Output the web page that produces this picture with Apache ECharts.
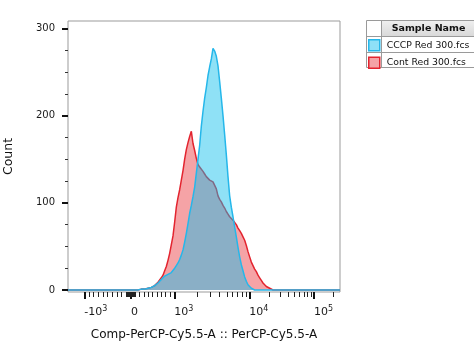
<!DOCTYPE html>
<html><head><meta charset="utf-8">
<script src="https://cdn.jsdelivr.net/npm/echarts@6/dist/echarts.min.js"></script>
<style>html,body{margin:0;padding:0;background:#fff}#c{width:474px;height:351px}</style>
</head><body><div id="c"></div>
<script>
// Histogram bins on the biexponential display scale (display channels)
const binChannels = [40,41,42,43,44,45,46,47,48,49,50,51,52,53,54,55,56,57,58,59,
  60,61,62,63,64,65,66,67,68,69,70,71,72,73,74,75,76,77,78,79,
  80,81,82,83,84,85,86,87,88,89,90,91,92,93,94,95,96,97,98,99,
  100,101,102,103,104,105,106,107,108,109,110,111,112,113,114,115,116,117,118,119,
  120,121,122,123];
const cccpCounts = [0,0,0,1,1,1,1,2,2,3,
  3,4,5,7,8,10,12,14,16,17,
  18,19,20,22,25,28,31,35,40,46,
  55,65,76,88,97,107,118,134,150,166,
  188,205,220,232,246,256,265,277,274,268,
  257,239,220,200,178,155,130,108,95,84,
  72,61,49,38,29,22,15,10,6,4,
  2,1,0,0,0,0,0,0,0,0,
  0,0,0,0];
const contCounts = [0,0,0,1,1,1,1,2,2,3,
  3,4,5,7,9,11,14,17,22,27,
  34,42,52,62,78,95,106,115,126,137,
  150,161,169,176,182,168,160,151,144,141,
  139,136,133,130,128,126,125,124,122,116,
  108,104,101,97,94,90,87,84,82,80,
  79,75,71,68,65,61,57,51,44,38,
  32,28,24,21,17,14,11,8,6,4,
  3,2,1,0];
const seriesNames = ['CCCP Red 300.fcs', 'Cont Red 300.fcs'];
const xTitle = 'Comp-PerCP-Cy5.5-A :: PerCP-Cy5.5-A';
const yTitle = 'Count';
const legendHeader = 'Sample Name';
const majorTickValues = [-1000, 0, 1000, 10000, 100000];
const majorTickLabels = ['{b|-10}{s|3}', '{b|0}', '{b|10}{s|3}', '{b|10}{s|4}', '{b|10}{s|5}'];
const minorTickValues = [-900,-800,-700,-600,-500,-400,-300,-200,-100,
  -90,-80,-70,-60,-50,-40,-30,-20,-10,10,20,30,40,50,60,70,80,90,
  100,200,300,400,500,600,700,800,900,
  2000,3000,4000,5000,6000,7000,8000,9000,
  20000,30000,40000,50000,60000,70000,80000,90000,200000];
const yMajorTicks = [0, 100, 200, 300];
const yMinorTicks = [25, 50, 75, 125, 150, 175, 225, 250, 275];

const CH_MIN = 0, CH_MAX = 163.2;
const Y_MIN = -2.3, Y_MAX = 308.5;
const FONT = 'DejaVu Sans';

// biexponential-like display transform (value -> display channel)
function biex(v) {
  if (v < 0) return 37.8 + v * 0.028;
  if (v <= 1000) return 37.8 + v * 0.026;
  if (v <= 10000) return 63.8 + 45 * Math.log10(v / 1000);
  return 108.8 + 38.8 * Math.log10(v / 10000);
}
const majorPos = majorTickValues.map(biex);
const minorPos = minorTickValues.map(biex);

function mkData(counts) {
  const d = [[CH_MIN, 0]];
  binChannels.forEach((c, i) => d.push([c, counts[i]]));
  d.push([CH_MAX, 0]);
  return d;
}

const chart = echarts.init(document.getElementById('c'), null, {renderer: 'canvas'});
const labelRich = {
  b: {fontFamily: FONT, fontSize: 11, color: '#1a1a1a', lineHeight: 13, padding: [3, 0, 0, 0], verticalAlign: 'bottom'},
  s: {fontFamily: FONT, fontSize: 8, color: '#1a1a1a', lineHeight: 8, verticalAlign: 'top'}
};
chart.setOption({
  animation: false,
  grid: {left: 68, top: 21, right: 134, bottom: 59, show: true, borderColor: '#9b9b9b', borderWidth: 1, backgroundColor: 'transparent', outerBoundsMode: 'none'},
  xAxis: [{
    type: 'value', min: CH_MIN, max: CH_MAX, position: 'bottom',
    axisLine: {show: false, onZero: false}, splitLine: {show: false},
    axisTick: {customValues: majorPos, length: 7, lineStyle: {color: '#111', width: 2}},
    axisLabel: {
      customValues: majorPos, align: 'left', margin: 13,
      formatter: function (val) {
        let best = 0;
        majorPos.forEach((p, i) => { if (Math.abs(p - val) < Math.abs(majorPos[best] - val)) best = i; });
        return majorTickLabels[best];
      },
      rich: labelRich
    },
    name: xTitle, nameLocation: 'middle', nameGap: 37,
    nameTextStyle: {fontFamily: FONT, fontSize: 12, color: '#111'}
  }, {
    type: 'value', min: CH_MIN, max: CH_MAX, position: 'bottom', gridIndex: 0,
    axisLine: {show: false, onZero: false}, splitLine: {show: false},
    axisTick: {customValues: minorPos, length: 5, lineStyle: {color: '#222', width: 1}},
    axisLabel: {show: false}
  }],
  yAxis: [{
    type: 'value', min: Y_MIN, max: Y_MAX, position: 'left',
    axisLine: {show: false, onZero: false}, splitLine: {show: false},
    axisTick: {customValues: yMajorTicks, length: 6, lineStyle: {color: '#111', width: 2}},
    axisLabel: {customValues: yMajorTicks, margin: 13, fontFamily: FONT, fontSize: 10, color: '#1a1a1a'},
    name: yTitle, nameLocation: 'middle', nameGap: 53,
    nameTextStyle: {fontFamily: FONT, fontSize: 12.5, color: '#111'}
  }, {
    type: 'value', min: Y_MIN, max: Y_MAX, position: 'left', gridIndex: 0,
    axisLine: {show: false, onZero: false}, splitLine: {show: false},
    axisTick: {customValues: yMinorTicks, length: 3, lineStyle: {color: '#333', width: 1}},
    axisLabel: {show: false}
  }],
  legend: {
    orient: 'vertical', left: 368, top: 39, padding: 0, itemWidth: 11, itemHeight: 11, itemGap: 5,
    icon: 'rect', selectedMode: false,
    textStyle: {fontFamily: FONT, fontSize: 9.3, lineHeight: 11, color: '#111', padding: [0, 0, 0, 2]},
    data: [
      {name: seriesNames[0], itemStyle: {color: '#8fe0f7', borderColor: '#25b7ea', borderWidth: 1.5}},
      {name: seriesNames[1], itemStyle: {color: '#f5a3a6', borderColor: '#e3242f', borderWidth: 1.5}}
    ]
  },
  graphic: [
    {type: 'rect', shape: {x: 381, y: 20, width: 93, height: 16},
      style: {fill: new echarts.graphic.LinearGradient(0, 0, 0, 1, [{offset: 0, color: '#f0f0f0'}, {offset: 1, color: '#d9d9d9'}])}},
    {type: 'rect', shape: {x: 366.5, y: 20.5, width: 120, height: 47}, style: {fill: 'none', stroke: '#9a9a9a', lineWidth: 1}},
    {type: 'line', shape: {x1: 366, y1: 36.5, x2: 474, y2: 36.5}, style: {stroke: '#9a9a9a', lineWidth: 1}},
    {type: 'line', shape: {x1: 366, y1: 52.5, x2: 474, y2: 52.5}, style: {stroke: '#9a9a9a', lineWidth: 1}},
    {type: 'line', shape: {x1: 381.5, y1: 20, x2: 381.5, y2: 68}, style: {stroke: '#9a9a9a', lineWidth: 1}},
    {type: 'text', x: 428.5, y: 28.5, style: {text: legendHeader, fontFamily: FONT, fontWeight: 'bold', fontSize: 9.5, fill: '#111', align: 'center', verticalAlign: 'middle'}}
  ],
  series: [{
    type: 'line', name: seriesNames[1], data: mkData(contCounts), xAxisIndex: 0, yAxisIndex: 0,
    symbol: 'none', showSymbol: false, z: 2,
    itemStyle: {color: '#e3242f'},
    lineStyle: {color: '#e3242f', width: 1.5},
    areaStyle: {color: '#f5a3a6', opacity: 1}
  }, {
    type: 'line', name: seriesNames[0], data: mkData(cccpCounts), xAxisIndex: 0, yAxisIndex: 0,
    symbol: 'none', showSymbol: false, z: 3,
    itemStyle: {color: '#25b7ea'},
    lineStyle: {color: '#25b7ea', width: 1.5},
    areaStyle: {color: 'rgba(10,190,235,0.46)', opacity: 1}
  }]
});
</script>
</body></html>
